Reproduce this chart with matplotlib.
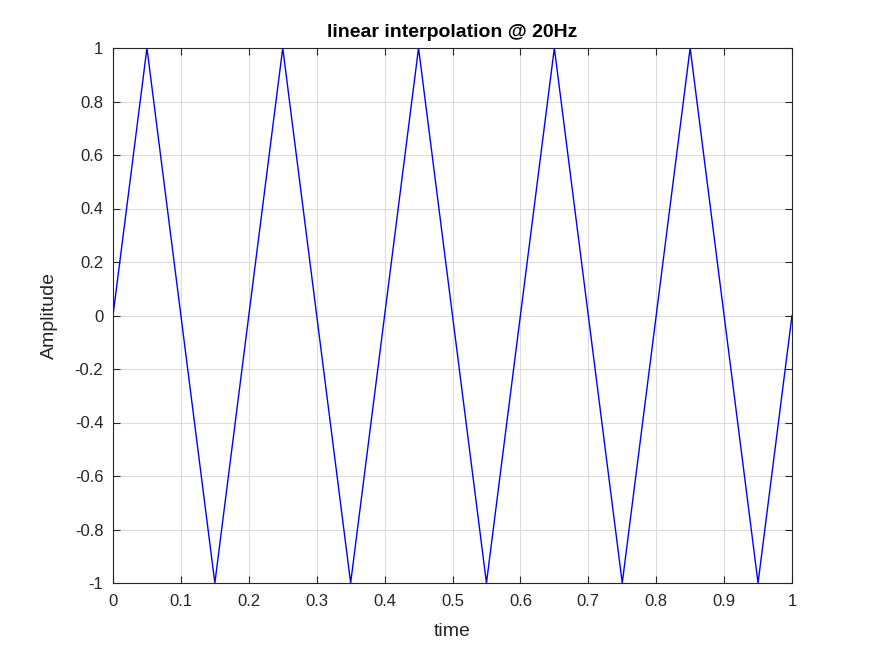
import matplotlib
matplotlib.use("Agg")
import matplotlib.pyplot as plt

t = [0, 0.05, 0.1, 0.15, 0.2, 0.25, 0.3, 0.35, 0.4, 0.45, 0.5, 0.55, 0.6, 0.65, 0.7, 0.75, 0.8, 0.85, 0.9, 0.95, 1.0]
amp = [0, 1, 0, -1, 0, 1, 0, -1, 0, 1, 0, -1, 0, 1, 0, -1, 0, 1, 0, -1, 0]
xticks = [0, 0.1, 0.2, 0.3, 0.4, 0.5, 0.6, 0.7, 0.8, 0.9, 1]
xlabels = ["0", "0.1", "0.2", "0.3", "0.4", "0.5", "0.6", "0.7", "0.8", "0.9", "1"]
yticks = [-1, -0.8, -0.6, -0.4, -0.2, 0, 0.2, 0.4, 0.6, 0.8, 1]
ylabels = ["-1", "-0.8", "-0.6", "-0.4", "-0.2", "0", "0.2", "0.4", "0.6", "0.8", "1"]

plt.rcParams['font.family'] = ['Liberation Sans', 'DejaVu Sans']
fig = plt.figure(figsize=(8.75, 6.56), dpi=100)
ax = fig.add_axes([113/875, 1-583/656, (792-113)/875, (583-48)/656])
ax.plot(t, amp, color='#0000ff', lw=1.0)
ax.set_xlim(0, 1); ax.set_ylim(-1, 1)
ax.set_xticks(xticks, xlabels); ax.set_yticks(yticks, ylabels)
ax.grid(True, color='#dcdcdc', lw=0.8)
ax.set_axisbelow(True)
for s in ax.spines.values():
    s.set_color('#262626'); s.set_linewidth(0.8)
ax.tick_params(direction='in', labelsize=12, colors='#262626', top=True, right=True, length=5)
ax.tick_params(axis='x', pad=8)
ax.tick_params(axis='y', pad=7)
ax.set_xlabel('time', fontsize=14, color='#262626', labelpad=10)
ax.set_ylabel('Amplitude', fontsize=14, color='#262626', labelpad=12)
ax.set_title('linear interpolation @ 20Hz', fontsize=14, fontweight='bold', color='#000000', pad=8)
fig.savefig('out.png', dpi=100)
